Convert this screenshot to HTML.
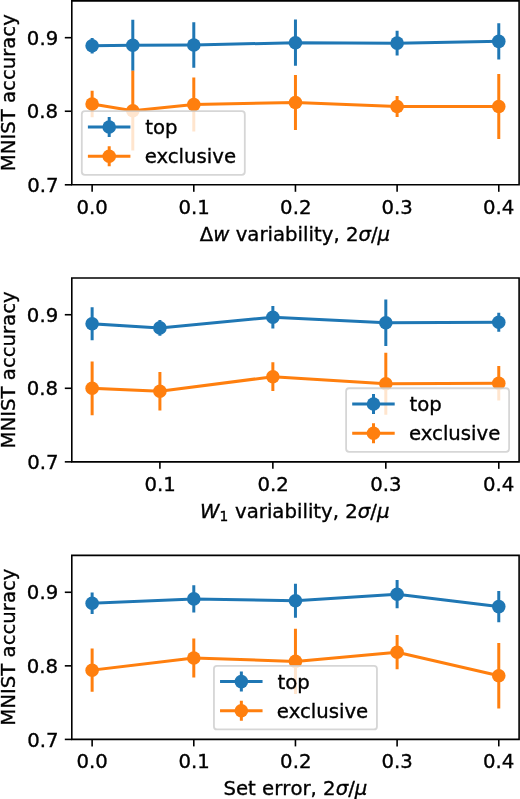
<!DOCTYPE html>
<html><head><meta charset="utf-8"><title>MNIST accuracy</title><style>
html,body{margin:0;padding:0;background:#fff;width:520px;height:799px;overflow:hidden}
svg{display:block}
text{font-family:"DejaVu Sans","Liberation Sans",sans-serif;font-size:19.7px;fill:#000;stroke:#000;stroke-width:0.35px}
.it{font-style:italic} text{white-space:pre}
</style></head><body>
<svg width="520" height="799" viewBox="0 0 520 799">
<rect width="520" height="799" fill="#fff"/>

<clipPath id="c0"><rect x="71.8" y="0.9" width="447.3" height="183.9"/></clipPath>
<g clip-path="url(#c0)">
<path d="M92.13 38V53.6 M132.8 19.8V70.8 M193.79 22.3V67.8 M295.45 19.6V65.8 M397.11 30.7V55.6 M498.77 23.2V59.6" stroke="#1f77b4" stroke-width="3.0" fill="none"/>
<path d="M92.13 45.8 L132.8 45.3 L193.79 45.05 L295.45 42.7 L397.11 43.15 L498.77 41.4" stroke="#1f77b4" stroke-width="3.0" fill="none" stroke-linejoin="round" stroke-linecap="square"/>
<circle cx="92.13" cy="45.8" r="6.8" fill="#1f77b4"/>
<circle cx="132.8" cy="45.3" r="6.8" fill="#1f77b4"/>
<circle cx="193.79" cy="45.05" r="6.8" fill="#1f77b4"/>
<circle cx="295.45" cy="42.7" r="6.8" fill="#1f77b4"/>
<circle cx="397.11" cy="43.15" r="6.8" fill="#1f77b4"/>
<circle cx="498.77" cy="41.4" r="6.8" fill="#1f77b4"/>
<path d="M92.13 90.75V117.25 M132.8 70.8V150.6 M193.79 77.6V131.6 M295.45 74.9V130.1 M397.11 96V117 M498.77 74V139" stroke="#ff7f0e" stroke-width="3.0" fill="none"/>
<path d="M92.13 104 L132.8 110.7 L193.79 104.6 L295.45 102.5 L397.11 106.5 L498.77 106.5" stroke="#ff7f0e" stroke-width="3.0" fill="none" stroke-linejoin="round" stroke-linecap="square"/>
<circle cx="92.13" cy="104" r="6.8" fill="#ff7f0e"/>
<circle cx="132.8" cy="110.7" r="6.8" fill="#ff7f0e"/>
<circle cx="193.79" cy="104.6" r="6.8" fill="#ff7f0e"/>
<circle cx="295.45" cy="102.5" r="6.8" fill="#ff7f0e"/>
<circle cx="397.11" cy="106.5" r="6.8" fill="#ff7f0e"/>
<circle cx="498.77" cy="106.5" r="6.8" fill="#ff7f0e"/>
</g>
<path d="M71.8 0.9H519.1V184.8H71.8Z" fill="none" stroke="#000" stroke-width="1.6" stroke-linejoin="miter"/>
<path d="M64.8 184.8H71.8" stroke="#000" stroke-width="1.6"/>
<text x="27.15" y="192">0.7</text>
<path d="M64.8 111.24H71.8" stroke="#000" stroke-width="1.6"/>
<text x="26.82" y="118.44">0.8</text>
<path d="M64.8 37.68H71.8" stroke="#000" stroke-width="1.6"/>
<text x="26.86" y="44.88">0.9</text>
<path d="M92.13 184.8V191.8" stroke="#000" stroke-width="1.6"/>
<text x="76.47" y="213.8">0.0</text>
<path d="M193.79 184.8V191.8" stroke="#000" stroke-width="1.6"/>
<text x="178.39" y="213.8">0.1</text>
<path d="M295.45 184.8V191.8" stroke="#000" stroke-width="1.6"/>
<text x="280.12" y="213.8">0.2</text>
<path d="M397.11 184.8V191.8" stroke="#000" stroke-width="1.6"/>
<text x="381.58" y="213.8">0.3</text>
<path d="M498.77 184.8V191.8" stroke="#000" stroke-width="1.6"/>
<text x="483.01" y="213.8">0.4</text>
<path d="M84.8 111.2H241.8Q244.8 111.2 244.8 114.2V171.8Q244.8 174.8 241.8 174.8H84.8Q81.8 174.8 81.8 171.8V114.2Q81.8 111.2 84.8 111.2Z" fill="#fff" fill-opacity="0.8" stroke="#ccc" stroke-opacity="0.8" stroke-width="1.8"/>
<path d="M87.9 127H130.4 M109.2 117V137" stroke="#1f77b4" stroke-width="3.0" fill="none"/>
<circle cx="109.2" cy="127" r="6.8" fill="#1f77b4"/>
<text x="145.27" y="134.2">top</text>
<path d="M87.9 156.2H130.4 M109.2 146.2V166.2" stroke="#ff7f0e" stroke-width="3.0" fill="none"/>
<circle cx="109.2" cy="156.2" r="6.8" fill="#ff7f0e"/>
<text x="144.71" y="163.05">exclusive</text>
<text transform="translate(14.7 92) rotate(-90)" x="-79.29" y="0">MNIST accuracy</text>
<clipPath id="c1"><rect x="71.8" y="278" width="447.3" height="183.85"/></clipPath>
<g clip-path="url(#c1)">
<path d="M92.13 307.3V340.3 M159.9 320.1V335.7 M272.86 305.9V328.5 M385.81 299.5V346.1 M498.77 312.75V331.65" stroke="#1f77b4" stroke-width="3.0" fill="none"/>
<path d="M92.13 323.8 L159.9 327.9 L272.86 317.2 L385.81 322.8 L498.77 322.2" stroke="#1f77b4" stroke-width="3.0" fill="none" stroke-linejoin="round" stroke-linecap="square"/>
<circle cx="92.13" cy="323.8" r="6.8" fill="#1f77b4"/>
<circle cx="159.9" cy="327.9" r="6.8" fill="#1f77b4"/>
<circle cx="272.86" cy="317.2" r="6.8" fill="#1f77b4"/>
<circle cx="385.81" cy="322.8" r="6.8" fill="#1f77b4"/>
<circle cx="498.77" cy="322.2" r="6.8" fill="#1f77b4"/>
<path d="M92.13 361.45V415.15 M159.9 372.05V410.55 M272.86 362.35V391.05 M385.81 352.8V414.8 M498.77 366V400.4" stroke="#ff7f0e" stroke-width="3.0" fill="none"/>
<path d="M92.13 388.3 L159.9 391.3 L272.86 376.7 L385.81 383.8 L498.77 383.2" stroke="#ff7f0e" stroke-width="3.0" fill="none" stroke-linejoin="round" stroke-linecap="square"/>
<circle cx="92.13" cy="388.3" r="6.8" fill="#ff7f0e"/>
<circle cx="159.9" cy="391.3" r="6.8" fill="#ff7f0e"/>
<circle cx="272.86" cy="376.7" r="6.8" fill="#ff7f0e"/>
<circle cx="385.81" cy="383.8" r="6.8" fill="#ff7f0e"/>
<circle cx="498.77" cy="383.2" r="6.8" fill="#ff7f0e"/>
</g>
<path d="M71.8 278H519.1V461.85H71.8Z" fill="none" stroke="#000" stroke-width="1.6" stroke-linejoin="miter"/>
<path d="M64.8 461.85H71.8" stroke="#000" stroke-width="1.6"/>
<text x="27.15" y="469.05">0.7</text>
<path d="M64.8 388.29H71.8" stroke="#000" stroke-width="1.6"/>
<text x="26.82" y="395.49">0.8</text>
<path d="M64.8 314.73H71.8" stroke="#000" stroke-width="1.6"/>
<text x="26.86" y="321.93">0.9</text>
<path d="M159.9 461.85V468.85" stroke="#000" stroke-width="1.6"/>
<text x="144.5" y="490.85">0.1</text>
<path d="M272.86 461.85V468.85" stroke="#000" stroke-width="1.6"/>
<text x="257.53" y="490.85">0.2</text>
<path d="M385.81 461.85V468.85" stroke="#000" stroke-width="1.6"/>
<text x="370.29" y="490.85">0.3</text>
<path d="M498.77 461.85V468.85" stroke="#000" stroke-width="1.6"/>
<text x="483.01" y="490.85">0.4</text>
<path d="M349.1 388.25H506.1Q509.1 388.25 509.1 391.25V448.85Q509.1 451.85 506.1 451.85H349.1Q346.1 451.85 346.1 448.85V391.25Q346.1 388.25 349.1 388.25Z" fill="#fff" fill-opacity="0.8" stroke="#ccc" stroke-opacity="0.8" stroke-width="1.8"/>
<path d="M352.2 404.05H394.7 M373.5 394.05V414.05" stroke="#1f77b4" stroke-width="3.0" fill="none"/>
<circle cx="373.5" cy="404.05" r="6.8" fill="#1f77b4"/>
<text x="409.57" y="411.25">top</text>
<path d="M352.2 433.25H394.7 M373.5 423.25V443.25" stroke="#ff7f0e" stroke-width="3.0" fill="none"/>
<circle cx="373.5" cy="433.25" r="6.8" fill="#ff7f0e"/>
<text x="409.01" y="440.1">exclusive</text>
<text transform="translate(14.7 369.2) rotate(-90)" x="-79.29" y="0">MNIST accuracy</text>
<clipPath id="c2"><rect x="71.8" y="555.35" width="447.3" height="184.05"/></clipPath>
<g clip-path="url(#c2)">
<path d="M92.13 592.4V614 M193.79 585.2V612.6 M295.45 583.75V617.85 M397.11 580.05V608.35 M498.77 591.05V622.15" stroke="#1f77b4" stroke-width="3.0" fill="none"/>
<path d="M92.13 603.2 L193.79 598.9 L295.45 600.8 L397.11 594.2 L498.77 606.6" stroke="#1f77b4" stroke-width="3.0" fill="none" stroke-linejoin="round" stroke-linecap="square"/>
<circle cx="92.13" cy="603.2" r="6.8" fill="#1f77b4"/>
<circle cx="193.79" cy="598.9" r="6.8" fill="#1f77b4"/>
<circle cx="295.45" cy="600.8" r="6.8" fill="#1f77b4"/>
<circle cx="397.11" cy="594.2" r="6.8" fill="#1f77b4"/>
<circle cx="498.77" cy="606.6" r="6.8" fill="#1f77b4"/>
<path d="M92.13 648.55V691.85 M193.79 638.5V677.5 M295.45 628.8V694 M397.11 635.05V669.35 M498.77 642.95V708.45" stroke="#ff7f0e" stroke-width="3.0" fill="none"/>
<path d="M92.13 670.2 L193.79 658 L295.45 661.4 L397.11 652.2 L498.77 675.7" stroke="#ff7f0e" stroke-width="3.0" fill="none" stroke-linejoin="round" stroke-linecap="square"/>
<circle cx="92.13" cy="670.2" r="6.8" fill="#ff7f0e"/>
<circle cx="193.79" cy="658" r="6.8" fill="#ff7f0e"/>
<circle cx="295.45" cy="661.4" r="6.8" fill="#ff7f0e"/>
<circle cx="397.11" cy="652.2" r="6.8" fill="#ff7f0e"/>
<circle cx="498.77" cy="675.7" r="6.8" fill="#ff7f0e"/>
</g>
<path d="M71.8 555.35H519.1V739.4H71.8Z" fill="none" stroke="#000" stroke-width="1.6" stroke-linejoin="miter"/>
<path d="M64.8 739.4H71.8" stroke="#000" stroke-width="1.6"/>
<text x="27.15" y="746.6">0.7</text>
<path d="M64.8 665.84H71.8" stroke="#000" stroke-width="1.6"/>
<text x="26.82" y="673.04">0.8</text>
<path d="M64.8 592.28H71.8" stroke="#000" stroke-width="1.6"/>
<text x="26.86" y="599.48">0.9</text>
<path d="M92.13 739.4V746.4" stroke="#000" stroke-width="1.6"/>
<text x="76.47" y="768.4">0.0</text>
<path d="M193.79 739.4V746.4" stroke="#000" stroke-width="1.6"/>
<text x="178.39" y="768.4">0.1</text>
<path d="M295.45 739.4V746.4" stroke="#000" stroke-width="1.6"/>
<text x="280.12" y="768.4">0.2</text>
<path d="M397.11 739.4V746.4" stroke="#000" stroke-width="1.6"/>
<text x="381.58" y="768.4">0.3</text>
<path d="M498.77 739.4V746.4" stroke="#000" stroke-width="1.6"/>
<text x="483.01" y="768.4">0.4</text>
<path d="M216.95 665.8H373.95Q376.95 665.8 376.95 668.8V726.4Q376.95 729.4 373.95 729.4H216.95Q213.95 729.4 213.95 726.4V668.8Q213.95 665.8 216.95 665.8Z" fill="#fff" fill-opacity="0.8" stroke="#ccc" stroke-opacity="0.8" stroke-width="1.8"/>
<path d="M220.05 681.6H262.55 M241.35 671.6V691.6" stroke="#1f77b4" stroke-width="3.0" fill="none"/>
<circle cx="241.35" cy="681.6" r="6.8" fill="#1f77b4"/>
<text x="277.42" y="688.8">top</text>
<path d="M220.05 710.8H262.55 M241.35 700.8V720.8" stroke="#ff7f0e" stroke-width="3.0" fill="none"/>
<circle cx="241.35" cy="710.8" r="6.8" fill="#ff7f0e"/>
<text x="276.86" y="717.65">exclusive</text>
<text transform="translate(14.7 646.4) rotate(-90)" x="-79.29" y="0">MNIST accuracy</text>
<text><tspan x="199.85" y="240.95">Δ</tspan><tspan x="213.33" y="240.95" class="it">w</tspan><tspan x="229.44 235.7 247.36 259.43 267.53 273 285.08 297.58 303.05 308.53 314 321.72 333.38 339.64" y="240.95"> variability, </tspan><tspan x="345.91" y="240.95">2</tspan><tspan x="358.44" y="240.95" class="it">σ</tspan><tspan x="370.93" y="240.95">/</tspan><tspan x="377.56" y="240.95" class="it">μ</tspan></text>
<text><tspan x="200" y="518" class="it">W</tspan><tspan x="219.48" y="521.23" font-size="13.79">1</tspan><tspan x="228.79 235.05 246.71 258.78 266.88 272.36 284.43 296.93 302.41 307.88 313.35 321.08 332.74 339" y="518"> variability, </tspan><tspan x="345.26" y="518">2</tspan><tspan x="357.79" y="518" class="it">σ</tspan><tspan x="370.28" y="518">/</tspan><tspan x="376.92" y="518" class="it">μ</tspan></text>
<text><tspan x="223.5 236 248.12 255.85 262.11 274.23 282.33 290.43 302.48 310.58 316.84" y="794.9">Set error, </tspan><tspan x="323.11" y="794.9">2</tspan><tspan x="335.64" y="794.9" class="it">σ</tspan><tspan x="348.13" y="794.9">/</tspan><tspan x="354.76" y="794.9" class="it">μ</tspan></text>
</svg>
</body></html>
